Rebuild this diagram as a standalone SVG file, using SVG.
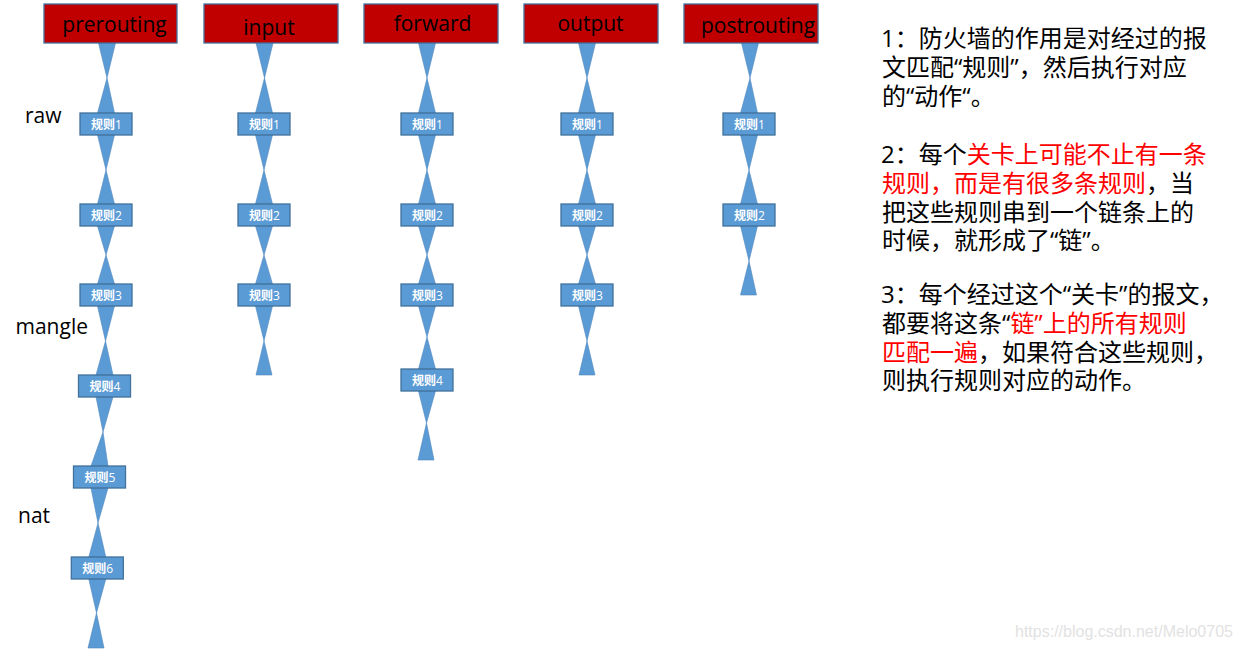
<svg xmlns="http://www.w3.org/2000/svg" width="1241" height="650" viewBox="0 0 1241 650">
<style>
.hdr{fill:#C00000;stroke:#41719C;stroke-width:1.3}
.ht{font-family:'Open Sans','Noto Sans',sans-serif;font-size:21px;fill:#000;text-anchor:middle}
.lbl{font-family:'Open Sans','Noto Sans',sans-serif;font-size:21px;fill:#000}
.rule{fill:#5B9BD5;stroke:#41719C;stroke-width:1.3}
.rt{font-family:'Open Sans','Noto Sans CJK SC',sans-serif;font-size:12px;fill:#fff;text-anchor:middle}
.rt tspan.c{font-weight:bold}
.hg{fill:#5B9BD5;stroke:#4F87BD;stroke-width:0.6;stroke-linejoin:miter}
.note{font-family:'Open Sans','Noto Sans CJK SC',sans-serif;font-size:24px;fill:#000}
.red{fill:#FF0000}
.wm{font-family:'Liberation Sans',Arial,sans-serif;font-size:16px;fill:#e2e2e2}
</style>
<defs>
<rect id="rb" width="52" height="22" class="rule"/>
</defs>

<g id="connectors">
  <!-- prerouting -->
  <path class="hg" d="M98.5,43 L115.5,43 L107,78 Z M107,78 L114.5,113 L97.5,113 Z"/>
  <path class="hg" d="M97.5,135 L114.5,135 L106,170 Z M106,170 L114.5,204 L97.5,204 Z"/>
  <path class="hg" d="M97.5,226 L114.5,226 L106,255 Z M106,255 L114.5,284 L97.5,284 Z"/>
  <path class="hg" d="M97.5,306 L114.5,306 L105.5,341 Z M105.5,341 L113,375 L96,375 Z"/>
  <path class="hg" d="M96,397 L113,397 L103,432 Z M103,432 L108,466 L91,466 Z"/>
  <path class="hg" d="M91,488 L108,488 L98,523 Z M98,523 L105.8,557 L88.8,557 Z"/>
  <path class="hg" d="M88.8,579 L105.8,579 L96.5,613 Z M96.5,613 L104,648 L88,648 Z"/>
  <!-- input -->
  <path class="hg" d="M256,43 L273,43 L264.5,78 Z M264.5,78 L272.5,113 L255.5,113 Z"/>
  <path class="hg" d="M255.5,135 L272.5,135 L264,170 Z M264,170 L272.5,204 L255.5,204 Z"/>
  <path class="hg" d="M255.5,226 L272.5,226 L264,255 Z M264,255 L272.5,284 L255.5,284 Z"/>
  <path class="hg" d="M255.5,306 L272.5,306 L264,341 Z M264,341 L272,375 L256,375 Z"/>
  <!-- forward -->
  <path class="hg" d="M418.5,43 L435.5,43 L427,78 Z M427,78 L435.5,113 L418.5,113 Z"/>
  <path class="hg" d="M418.5,135 L435.5,135 L427,170 Z M427,170 L435.5,204 L418.5,204 Z"/>
  <path class="hg" d="M418.5,226 L435.5,226 L427,255 Z M427,255 L435.5,284 L418.5,284 Z"/>
  <path class="hg" d="M418.5,306 L435.5,306 L427,337 Z M427,337 L435.5,369 L418.5,369 Z"/>
  <path class="hg" d="M418.5,391 L435.5,391 L426.5,423 Z M426.5,423 L434,460 L418,460 Z"/>
  <!-- output -->
  <path class="hg" d="M578.5,43 L595.5,43 L587,78 Z M587,78 L595.5,113 L578.5,113 Z"/>
  <path class="hg" d="M578.5,135 L595.5,135 L587,170 Z M587,170 L595.5,204 L578.5,204 Z"/>
  <path class="hg" d="M578.5,226 L595.5,226 L587,255 Z M587,255 L595.5,284 L578.5,284 Z"/>
  <path class="hg" d="M578.5,306 L595.5,306 L587,341 Z M587,341 L595,375 L579,375 Z"/>
  <!-- postrouting -->
  <path class="hg" d="M741.5,43 L758.5,43 L750,78 Z M750,78 L757.5,113 L740.5,113 Z"/>
  <path class="hg" d="M740.5,135 L757.5,135 L749,170 Z M749,170 L757.5,204 L740.5,204 Z"/>
  <path class="hg" d="M740.5,226 L757.5,226 L749,261 Z M749,261 L756.5,295 L740.5,295 Z"/>
</g>

<g id="prerouting">
  <rect class="hdr" x="44" y="4" width="133" height="39"/>
  <text class="ht" x="114.5" y="32">prerouting</text>
</g>
<g id="input">
  <rect class="hdr" x="204" y="4" width="134" height="39"/>
  <text class="ht" x="269" y="35">input</text>
</g>
<g id="forward">
  <rect class="hdr" x="364" y="4" width="134" height="39"/>
  <text class="ht" x="432.5" y="31">forward</text>
</g>
<g id="output">
  <rect class="hdr" x="524" y="4" width="134" height="39"/>
  <text class="ht" x="590.5" y="31">output</text>
</g>
<g id="postrouting">
  <rect class="hdr" x="684" y="4" width="134" height="39"/>
  <text class="ht" x="758" y="33">postrouting</text>
</g>

<g id="table-labels">
  <text class="lbl" x="25" y="123">raw</text>
  <text class="lbl" x="15.5" y="334">mangle</text>
  <text class="lbl" x="18" y="523">nat</text>
</g>

<g id="prerouting-rules">
  <g id="pre-r1"><use href="#rb" x="80" y="113"/><text class="rt" x="106.5" y="128.5"><tspan class="c">规则</tspan>1</text></g>
  <g id="pre-r2"><use href="#rb" x="80" y="204"/><text class="rt" x="106.5" y="219.5"><tspan class="c">规则</tspan>2</text></g>
  <g id="pre-r3"><use href="#rb" x="80" y="284"/><text class="rt" x="106.5" y="299.5"><tspan class="c">规则</tspan>3</text></g>
  <g id="pre-r4"><use href="#rb" x="78.5" y="375"/><text class="rt" x="105" y="390.5"><tspan class="c">规则</tspan>4</text></g>
  <g id="pre-r5"><use href="#rb" x="73.5" y="466"/><text class="rt" x="100" y="481.5"><tspan class="c">规则</tspan>5</text></g>
  <g id="pre-r6"><use href="#rb" x="71.3" y="557"/><text class="rt" x="97.8" y="572.5"><tspan class="c">规则</tspan>6</text></g>
</g>
<g id="input-rules">
  <g id="in-r1"><use href="#rb" x="238" y="113"/><text class="rt" x="264.5" y="128.5"><tspan class="c">规则</tspan>1</text></g>
  <g id="in-r2"><use href="#rb" x="238" y="204"/><text class="rt" x="264.5" y="219.5"><tspan class="c">规则</tspan>2</text></g>
  <g id="in-r3"><use href="#rb" x="238" y="284"/><text class="rt" x="264.5" y="299.5"><tspan class="c">规则</tspan>3</text></g>
</g>
<g id="forward-rules">
  <g id="fw-r1"><use href="#rb" x="401" y="113"/><text class="rt" x="427.5" y="128.5"><tspan class="c">规则</tspan>1</text></g>
  <g id="fw-r2"><use href="#rb" x="401" y="204"/><text class="rt" x="427.5" y="219.5"><tspan class="c">规则</tspan>2</text></g>
  <g id="fw-r3"><use href="#rb" x="401" y="284"/><text class="rt" x="427.5" y="299.5"><tspan class="c">规则</tspan>3</text></g>
  <g id="fw-r4"><use href="#rb" x="401" y="369"/><text class="rt" x="427.5" y="384.5"><tspan class="c">规则</tspan>4</text></g>
</g>
<g id="output-rules">
  <g id="out-r1"><use href="#rb" x="561" y="113"/><text class="rt" x="587.5" y="128.5"><tspan class="c">规则</tspan>1</text></g>
  <g id="out-r2"><use href="#rb" x="561" y="204"/><text class="rt" x="587.5" y="219.5"><tspan class="c">规则</tspan>2</text></g>
  <g id="out-r3"><use href="#rb" x="561" y="284"/><text class="rt" x="587.5" y="299.5"><tspan class="c">规则</tspan>3</text></g>
</g>
<g id="postrouting-rules">
  <g id="post-r1"><use href="#rb" x="723" y="113"/><text class="rt" x="749.5" y="128.5"><tspan class="c">规则</tspan>1</text></g>
  <g id="post-r2"><use href="#rb" x="723" y="204"/><text class="rt" x="749.5" y="219.5"><tspan class="c">规则</tspan>2</text></g>
</g>

<g id="notes">
  <text class="note" x="881" y="46.5">1：防火墙的作用是对经过的报</text>
  <text class="note" x="882" y="75.5">文匹配“规则”，然后执行对应</text>
  <text class="note" x="882" y="104.5">的“动作“。</text>

  <text class="note" x="881" y="163">2：每个<tspan class="red">关卡上可能不止有一条</tspan></text>
  <text class="note" x="882" y="191.5"><tspan class="red">规则，而是有很多条规则</tspan>，当</text>
  <text class="note" x="882" y="220.5">把这些规则串到一个链条上的</text>
  <text class="note" x="882" y="249">时候，就形成了“链”。</text>

  <text class="note" x="881" y="303">3：每个经过这个“关卡”的报文，</text>
  <text class="note" x="882" y="332">都要将这条“<tspan class="red">链”上的所有规则</tspan></text>
  <text class="note" x="882" y="361"><tspan class="red">匹配一遍</tspan>，如果符合这些规则，</text>
  <text class="note" x="882" y="389">则执行规则对应的动作。</text>
</g>

<text class="wm" x="1015" y="637">https://blog.csdn.net/Melo0705</text>
</svg>
